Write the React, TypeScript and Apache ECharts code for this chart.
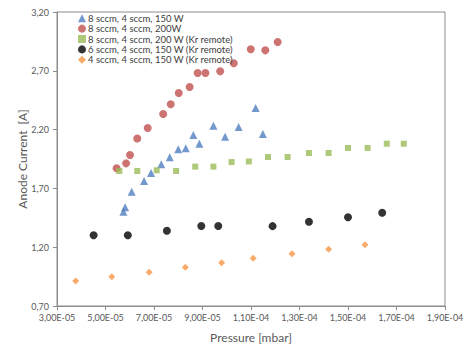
import React, { useEffect, useRef } from "react";
import * as echarts from "echarts";

const seriesNames = [
  "8 sccm, 4 sccm, 150 W",
  "8 sccm, 4 sccm, 200W",
  "8 sccm, 4 sccm, 200 W (Kr remote)",
  "6 sccm, 4 sccm, 150 W (Kr remote)",
  "4 sccm, 4 sccm, 150 W (Kr remote)",
];

const blueP = [5.74e-5, 5.81e-5, 6.08e-5, 6.59e-5, 6.88e-5, 7.30e-5, 7.65e-5, 8.00e-5, 8.31e-5, 8.62e-5, 8.87e-5, 9.45e-5, 9.93e-5, 1.049e-4, 1.119e-4, 1.149e-4];
const blueI = [1.502, 1.539, 1.671, 1.763, 1.831, 1.905, 1.964, 2.032, 2.041, 2.154, 2.080, 2.233, 2.140, 2.222, 2.384, 2.163];

const redP = [5.46e-5, 5.85e-5, 6.01e-5, 6.31e-5, 6.74e-5, 7.38e-5, 7.69e-5, 8.02e-5, 8.47e-5, 8.80e-5, 9.12e-5, 9.73e-5, 1.029e-4, 1.099e-4, 1.159e-4, 1.210e-4];
const redI = [1.871, 1.913, 1.984, 2.124, 2.214, 2.333, 2.415, 2.511, 2.562, 2.681, 2.681, 2.696, 2.764, 2.883, 2.874, 2.945];

const greenP = [5.57e-5, 6.31e-5, 7.11e-5, 7.91e-5, 8.70e-5, 9.45e-5, 1.020e-4, 1.091e-4, 1.170e-4, 1.251e-4, 1.339e-4, 1.420e-4, 1.500e-4, 1.581e-4, 1.660e-4, 1.730e-4];
const greenI = [1.848, 1.848, 1.854, 1.848, 1.885, 1.885, 1.924, 1.929, 1.967, 1.967, 2.001, 2.001, 2.044, 2.044, 2.080, 2.080];

const blackP = [4.51e-5, 5.92e-5, 7.53e-5, 8.95e-5, 9.65e-5, 1.189e-4, 1.339e-4, 1.500e-4, 1.641e-4];
const blackI = [1.302, 1.302, 1.340, 1.380, 1.380, 1.379, 1.417, 1.454, 1.493];

const orangeP = [3.77e-5, 5.26e-5, 6.80e-5, 8.29e-5, 9.79e-5, 1.109e-4, 1.269e-4, 1.420e-4, 1.570e-4];
const orangeI = [0.913, 0.949, 0.987, 1.029, 1.068, 1.106, 1.145, 1.182, 1.221];

const xMin = 3e-5;
const xMax = 1.9e-4;
const xStep = 2e-5;
const yMin = 0.7;
const yMax = 3.2;
const yStep = 0.5;

const pair = (p: number[], v: number[]) => p.map((x, i) => [x, v[i]]);

function fmtExp(v: number): string {
  const [m, e] = v.toExponential(2).split("e");
  const n = parseInt(e, 10);
  const sign = n < 0 ? "-" : "+";
  const abs = Math.abs(n).toString().padStart(2, "0");
  return m.replace(".", ",") + "E" + sign + abs;
}

export default function App() {
  const ref = useRef<HTMLDivElement>(null);
  useEffect(() => {
    document.body.style.margin = "0";
    if (!ref.current) return;
    const chart = echarts.init(ref.current, null, { renderer: "svg" });
    const font = "Lato, 'Open Sans', sans-serif";
    const grey = "#8c8c8c";
    const labelColor = "#595959";
    chart.setOption({
      animation: false,
      backgroundColor: "#ffffff",
      textStyle: { fontFamily: font },
      grid: {
        left: 57,
        top: 12,
        right: 29,
        bottom: 49,
        show: true,
        borderColor: grey,
        borderWidth: 1,
        containLabel: false,
      },
      legend: {
        orient: "vertical",
        left: 78,
        top: 13,
        itemWidth: 8,
        itemHeight: 8,
        itemGap: 0,
        padding: 0,
        textStyle: { fontSize: 9.5, lineHeight: 10.4, color: "#404040", fontFamily: font, padding: [0, 0, 0, -3] },
        data: seriesNames,
      },
      xAxis: {
        type: "value",
        min: xMin,
        max: xMax,
        interval: xStep,
        name: "Pressure [mbar]",
        nameLocation: "middle",
        nameGap: 25,
        nameTextStyle: { fontSize: 12, color: labelColor, fontFamily: font },
        axisLine: { show: true, lineStyle: { color: grey } },
        axisTick: { show: true, inside: false, length: 4, lineStyle: { color: grey } },
        axisLabel: { fontSize: 9, color: labelColor, margin: 7, formatter: (v: number) => fmtExp(v) },
        splitLine: { show: false },
      },
      yAxis: {
        type: "value",
        min: yMin,
        max: yMax,
        interval: yStep,
        name: "Anode Current  [A]",
        nameLocation: "middle",
        nameGap: 29,
        nameMoveOverlap: false,
        nameTextStyle: { fontSize: 12, color: labelColor, fontFamily: font },
        axisLine: { show: true, lineStyle: { color: grey } },
        axisTick: { show: true, inside: false, length: 4, lineStyle: { color: grey } },
        axisLabel: { fontSize: 9, color: labelColor, margin: 8, formatter: (v: number) => v.toFixed(2).replace(".", ",") },
        splitLine: { show: false },
      },
      series: [
        { name: seriesNames[0], type: "scatter", symbol: "triangle", symbolSize: 8, itemStyle: { color: "#4F7EC0" }, data: pair(blueP, blueI) },
        { name: seriesNames[1], type: "scatter", symbol: "circle", symbolSize: 8, itemStyle: { color: "#C0504D" }, data: pair(redP, redI) },
        { name: seriesNames[2], type: "scatter", symbol: "rect", symbolSize: 6, itemStyle: { color: "#9BBB59" }, data: pair(greenP, greenI) },
        { name: seriesNames[3], type: "scatter", symbol: "circle", symbolSize: 8, itemStyle: { color: "#000000" }, data: pair(blackP, blackI) },
        { name: seriesNames[4], type: "scatter", symbol: "diamond", symbolSize: 7, itemStyle: { color: "#F79646" }, data: pair(orangeP, orangeI) },
      ],
    });
    return () => chart.dispose();
  }, []);
  return <div ref={ref} style={{ width: 474, height: 355 }} />;
}
